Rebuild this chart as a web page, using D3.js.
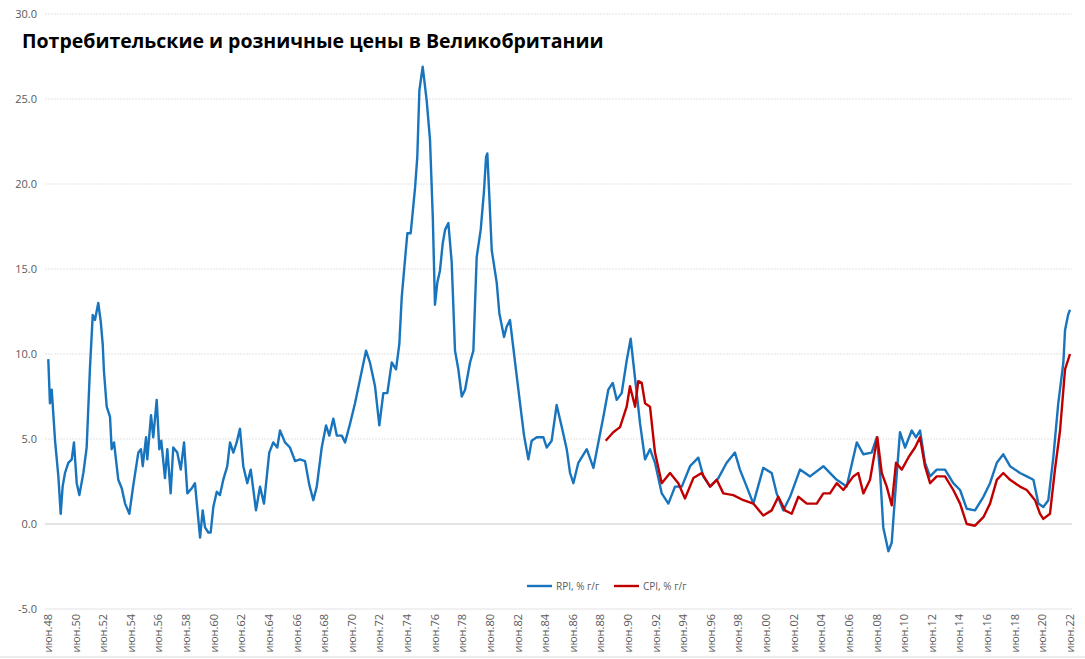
<!DOCTYPE html>
<html><head><meta charset="utf-8">
<script src="https://cdn.jsdelivr.net/npm/d3@7"></script>
<style>body{margin:0;background:#fff}svg{font-family:"Open Sans",Calibri,sans-serif}</style>
</head><body><svg id="c" width="1085" height="659"></svg>
<script>
const rpiDates=[1948.44,1948.56,1948.69,1948.93,1949.17,1949.34,1949.48,1949.65,1949.89,1950.14,1950.30,1950.50,1950.69,1950.98,1951.22,1951.46,1951.66,1951.82,1952.06,1952.24,1952.38,1952.47,1952.67,1952.91,1953.03,1953.20,1953.51,1953.76,1954.00,1954.31,1954.60,1954.96,1955.15,1955.28,1955.52,1955.61,1955.88,1956.04,1956.29,1956.48,1956.62,1956.89,1957.06,1957.30,1957.49,1957.78,1958.03,1958.27,1958.51,1958.83,1959.06,1959.43,1959.62,1959.79,1960.03,1960.20,1960.39,1960.64,1960.87,1961.11,1961.40,1961.60,1961.84,1962.08,1962.32,1962.56,1962.85,1963.10,1963.48,1963.77,1964.06,1964.44,1964.73,1965.02,1965.22,1965.58,1965.94,1966.31,1966.67,1967.03,1967.34,1967.63,1967.88,1968.24,1968.55,1968.79,1969.08,1969.33,1969.69,1969.93,1970.29,1970.65,1971.01,1971.45,1971.73,1972.10,1972.41,1972.70,1972.99,1973.31,1973.62,1973.86,1974.03,1974.20,1974.44,1974.68,1975.00,1975.16,1975.31,1975.55,1975.84,1976.08,1976.28,1976.44,1976.61,1976.80,1977.00,1977.17,1977.41,1977.65,1977.89,1978.13,1978.38,1978.62,1978.98,1979.22,1979.46,1979.75,1979.99,1980.14,1980.23,1980.38,1980.55,1980.91,1981.10,1981.44,1981.63,1981.87,1982.24,1982.60,1982.89,1983.20,1983.44,1983.81,1984.29,1984.53,1984.89,1985.25,1985.62,1985.98,1986.22,1986.46,1986.82,1987.43,1987.91,1988.27,1988.63,1988.99,1989.31,1989.60,1989.96,1990.32,1990.61,1990.80,1991.29,1991.65,1992.01,1992.37,1992.86,1993.34,1993.82,1994.31,1994.91,1995.51,1995.87,1996.36,1996.96,1997.56,1998.16,1998.52,1999.01,1999.49,2000.21,2000.82,2001.18,2001.66,2002.15,2002.87,2003.60,2004.56,2005.53,2006.25,2006.98,2007.46,2008.06,2008.43,2008.67,2008.90,2009.27,2009.51,2009.75,2010.11,2010.48,2010.96,2011.27,2011.56,2011.92,2012.29,2012.77,2013.37,2013.97,2014.46,2014.94,2015.54,2016.15,2016.63,2017.12,2017.59,2018.08,2018.80,2019.29,2019.77,2020.13,2020.49,2020.85,2021.21,2021.57,2021.94,2022.06,2022.28,2022.42];
const rpiValues=[9.7,7.1,7.9,4.9,2.8,0.6,2.2,3.0,3.6,3.8,4.8,2.4,1.7,3.0,4.5,9.2,12.3,12.0,13.0,11.9,10.6,9.0,6.9,6.3,4.4,4.8,2.6,2.1,1.2,0.6,2.3,4.2,4.4,3.4,5.1,3.8,6.4,5.1,7.3,4.4,4.9,2.7,4.4,1.8,4.5,4.2,3.2,4.8,1.8,2.1,2.4,-0.8,0.8,-0.2,-0.5,-0.5,1.0,1.9,1.7,2.6,3.4,4.8,4.2,4.8,5.6,3.4,2.4,3.2,0.8,2.2,1.2,4.2,4.8,4.5,5.5,4.8,4.5,3.7,3.8,3.7,2.3,1.4,2.2,4.5,5.8,5.2,6.2,5.2,5.2,4.8,5.9,7.1,8.5,10.2,9.5,8.1,5.8,7.7,7.7,9.5,9.1,10.6,13.3,14.9,17.1,17.1,19.8,21.6,25.5,26.9,24.9,22.6,18.1,12.9,14.2,14.9,16.5,17.3,17.7,15.4,10.2,9.1,7.5,7.9,9.5,10.2,15.7,17.3,19.6,21.6,21.8,19.2,16.1,14.2,12.4,11.0,11.6,12.0,9.5,7.1,5.2,3.8,4.9,5.1,5.1,4.5,4.9,7.0,5.7,4.4,3.0,2.4,3.6,4.4,3.3,4.8,6.3,7.9,8.3,7.3,7.7,9.6,10.9,9.5,5.9,3.8,4.4,3.6,1.8,1.2,2.2,2.2,3.4,3.9,2.8,2.2,2.7,3.6,4.2,3.2,2.2,1.2,3.3,3.0,1.8,0.8,1.6,3.2,2.8,3.4,2.6,2.2,4.8,4.1,4.2,5.1,3.0,-0.2,-1.6,-1.1,1.6,5.4,4.5,5.5,5.1,5.5,3.6,2.8,3.2,3.2,2.4,2.0,0.9,0.8,1.6,2.4,3.6,4.1,3.4,3.0,2.8,2.6,1.2,1.0,1.4,3.9,7.1,9.5,11.4,12.3,12.6];
const cpiDates=[1988.80,1989.35,1989.84,1990.32,1990.56,1990.93,1991.16,1991.41,1991.65,1992.01,1992.37,1992.86,1993.46,1994.06,1994.54,1995.15,1995.75,1996.36,1996.84,1997.32,1998.04,1998.77,1999.49,2000.21,2000.82,2001.30,2001.78,2002.27,2002.75,2003.36,2004.08,2004.56,2005.04,2005.53,2006.01,2006.73,2007.09,2007.46,2007.94,2008.47,2008.79,2009.15,2009.51,2009.82,2010.24,2010.71,2011.20,2011.56,2011.92,2012.29,2012.77,2013.37,2013.97,2014.46,2014.94,2015.54,2016.15,2016.63,2017.12,2017.59,2018.08,2018.80,2019.29,2019.89,2020.25,2020.49,2020.97,2021.33,2021.70,2022.06,2022.42];
const cpiValues=[4.9,5.4,5.7,6.9,8.1,6.9,8.4,8.3,7.1,6.9,4.2,2.4,3.0,2.4,1.5,2.7,3.0,2.2,2.6,1.8,1.7,1.4,1.2,0.5,0.8,1.6,0.8,0.6,1.6,1.2,1.2,1.8,1.8,2.4,2.0,2.8,3.0,1.8,2.6,5.1,3.0,2.2,1.1,3.6,3.2,3.9,4.5,5.1,3.4,2.4,2.8,2.8,2.0,1.2,0.0,-0.1,0.4,1.2,2.6,3.0,2.6,2.2,2.0,1.4,0.6,0.3,0.6,3.2,5.5,9.1,10.0];
const yTicks=[-5,0,5,10,15,20,25,30];
const tickYears=d3.range(1948,2023,2);
const title="Потребительские и розничные цены в Великобритании";
const seriesNames=["RPI, % г/г","CPI, % г/г"];
const colors=["#1874bd","#c00000"];

const svg=d3.select("#c");
const x=d3.scaleLinear().domain([1948.42,2022.42]).range([48,1070]);
const y=d3.scaleLinear().domain([-5,30]).range([609,14]);

svg.append("g").selectAll("line").data(yTicks).join("line")
 .attr("x1",45).attr("x2",1072).attr("y1",d=>y(d)).attr("y2",d=>y(d))
 .attr("stroke",d=>d===0?"#c8c8c8":"#e3e3e3").attr("stroke-width",1)
 .attr("stroke-dasharray",d=>d===0||d===-5?null:"2,1");
svg.append("g").selectAll("text").data(yTicks).join("text")
 .attr("x",37).attr("y",d=>y(d)+4).attr("text-anchor","end")
 .attr("font-size",11).attr("fill","#595959").text(d=>d.toFixed(1));
svg.append("g").selectAll("text").data(tickYears).join("text")
 .attr("transform",d=>`translate(${x(d+5/12)+4},614) rotate(-90)`)
 .attr("text-anchor","end").attr("font-size",11).attr("fill","#595959")
 .text(d=>"июн."+String(d%100).padStart(2,"0"));
svg.append("line").attr("x1",0).attr("x2",1085).attr("y1",657).attr("y2",657).attr("stroke","#d9d9d9");

const line=d3.line().x(d=>x(d[0])).y(d=>y(d[1]));
svg.append("path").datum(d3.zip(rpiDates,rpiValues)).attr("d",line)
 .attr("fill","none").attr("stroke",colors[0]).attr("stroke-width",2.4).attr("stroke-linejoin","round");
svg.append("path").datum(d3.zip(cpiDates,cpiValues)).attr("d",line)
 .attr("fill","none").attr("stroke",colors[1]).attr("stroke-width",2.4).attr("stroke-linejoin","round");

svg.append("text").attr("x",22).attr("y",48).attr("font-size",19.5).attr("font-weight","bold")
 .attr("fill","#000").text(title);

const lg=[[527,seriesNames[0],colors[0]],[614,seriesNames[1],colors[1]]];
lg.forEach(([lx,t,c])=>{
 svg.append("line").attr("x1",lx).attr("x2",lx+25).attr("y1",586).attr("y2",586).attr("stroke",c).attr("stroke-width",2.4);
 svg.append("text").attr("x",lx+29).attr("y",590).attr("font-size",10).attr("fill","#595959").text(t);
});
</script></body></html>
